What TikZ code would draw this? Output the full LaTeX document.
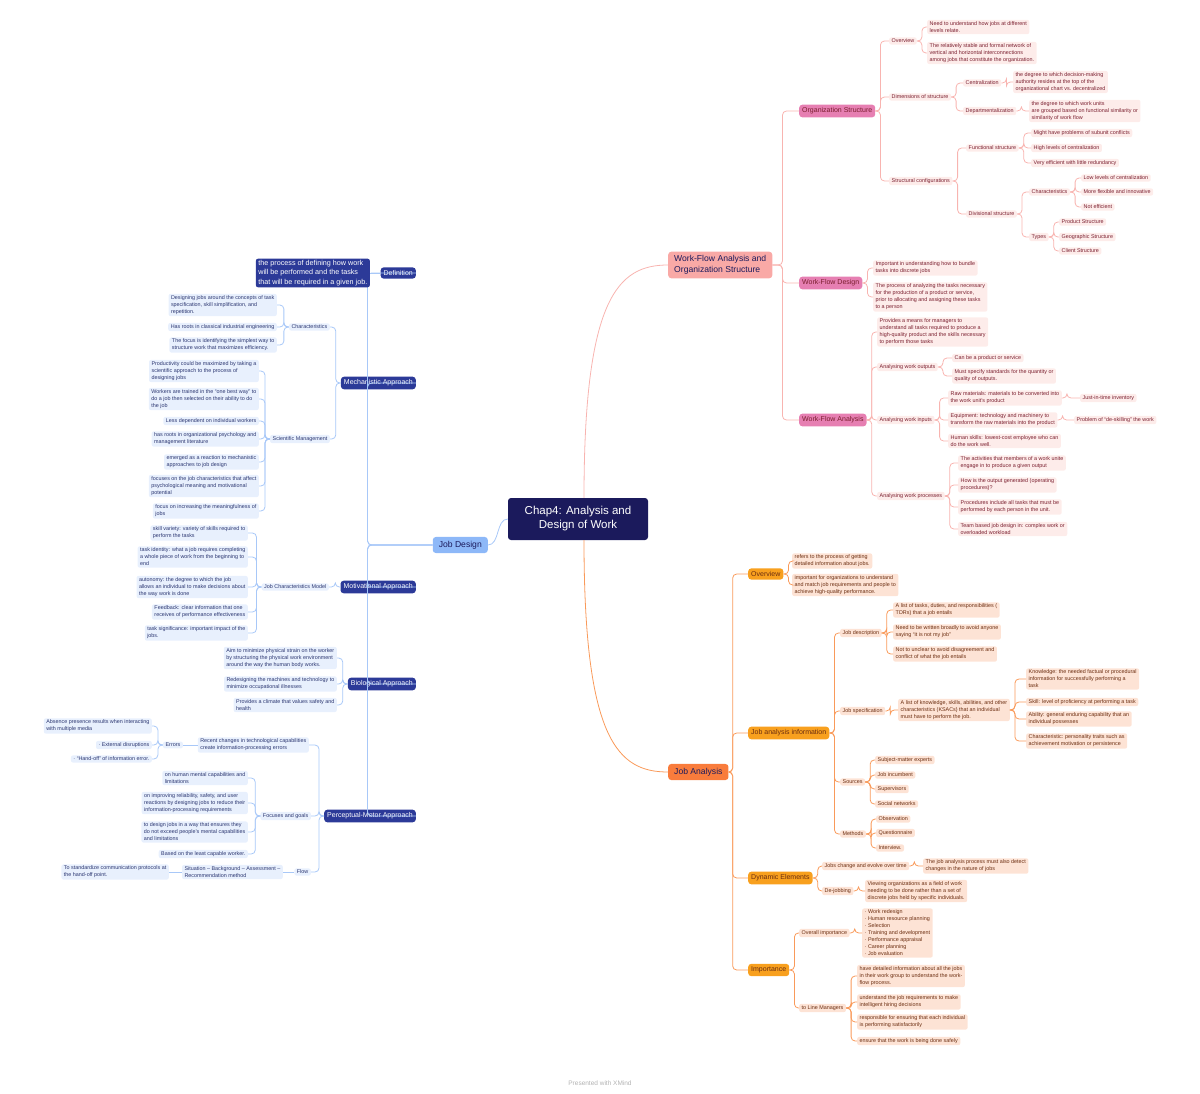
\documentclass[tikz,border=0pt]{standalone}
\usepackage{fontspec}
\setmainfont{Liberation Sans}
\begin{document}
\definecolor{rootc}{HTML}{1B1A5C}
\definecolor{pmainc}{HTML}{F9A9A6}
\definecolor{pmidc}{HTML}{E67FB2}
\definecolor{pleafc}{HTML}{FDECEA}
\definecolor{ptxt}{HTML}{7A1E2E}
\definecolor{plinec}{HTML}{F8B4B0}
\definecolor{omainc}{HTML}{F97C3C}
\definecolor{omidc}{HTML}{F8A01E}
\definecolor{oleafc}{HTML}{FDE3D5}
\definecolor{otxt}{HTML}{6B2D10}
\definecolor{olinec}{HTML}{F99A5A}
\definecolor{bmainc}{HTML}{8DB8F8}
\definecolor{bmidc}{HTML}{2C3A98}
\definecolor{bleafc}{HTML}{E8F0FD}
\definecolor{btxt}{HTML}{2A3570}
\definecolor{blinec}{HTML}{A8C8F8}
\begin{tikzpicture}[x=1pt,y=-1pt,
 base/.style={rounded corners=2pt,inner xsep=2.5pt,inner ysep=1.6pt,align=left,font=\fontsize{5.4}{7}\selectfont},
 pleaf/.style={base,fill=pleafc,text=ptxt},
 oleaf/.style={base,fill=oleafc,text=otxt},
 bleaf/.style={base,fill=bleafc,text=btxt},
 pmid/.style={rounded corners=3pt,fill=pmidc,text=ptxt,inner sep=3pt,font=\fontsize{7}{8.5}\selectfont},
 omid/.style={rounded corners=3pt,fill=omidc,text=otxt,inner sep=3pt,font=\fontsize{7}{8.5}\selectfont},
 bmid/.style={rounded corners=3pt,fill=bmidc,text=white,inner sep=3pt,font=\fontsize{7}{8.5}\selectfont},
 mainn/.style={rounded corners=3pt,inner xsep=6pt,inner ysep=4pt,align=left,font=\fontsize{8.6}{10.5}\selectfont},
 pl/.style={draw=plinec,line width=0.8pt,rounded corners=4pt},
 ol/.style={draw=olinec,line width=0.8pt,rounded corners=4pt},
 bl/.style={draw=blinec,line width=0.8pt,rounded corners=4pt}]
\useasboundingbox (0,0) rectangle (1200,1094);
\newcommand\RN[5]{\node[#1,anchor=west] (#2) at (#3,#4) {#5};}
\newcommand\LN[5]{\node[#1,anchor=east] (#2) at (#3,#4) {#5};}
\newcommand\cR[3]{\draw[#1] (#2.east) -- ++(5,0) |- (#3.west);}
\newcommand\cL[3]{\draw[#1] (#2.west) -- ++(-5,0) |- (#3.east);}
% root
\node[fill=rootc,text=white,rounded corners=3pt,minimum width=140pt,minimum height=42pt,align=center,font=\fontsize{11.5}{14}\selectfont] (root) at (578,519) {Chap4: Analysis and\\Design of Work};
% ===== pink branch
\RN{mainn,fill=pmainc,text=rootc}{wf}{668}{265}{Work-Flow Analysis and\\Organization Structure}
\draw[pl,rounded corners=0pt] ([xshift=6pt]root.north) .. controls +(0,-200) and +(-50,0) .. (wf.west);
\RN{pmid}{os}{799}{111}{Organization Structure}
\RN{pmid}{wfd}{799}{283}{Work-Flow Design}
\RN{pmid}{wfa}{799}{420}{Work-Flow Analysis}
\foreach \c in {os,wfd,wfa}{\draw[pl] (wf.east) -- ++(10,0) |- (\c.west);}
\RN{pleaf}{ov}{889}{41}{Overview}
\RN{pleaf}{dim}{889}{97}{Dimensions of structure}
\RN{pleaf}{sc}{889}{181}{Structural configurations}
\foreach \c in {ov,dim,sc}{\cR{pl}{os}{\c}}
\RN{pleaf}{ov1}{927}{27}{Need to understand how jobs at different\\levels relate.}
\RN{pleaf}{ov2}{927}{53}{The relatively stable and formal network of\\vertical and horizontal interconnections\\among jobs that constitute the organization.}
\cR{pl}{ov}{ov1}\cR{pl}{ov}{ov2}
\RN{pleaf}{cen}{963}{83}{Centralization}
\RN{pleaf}{dep}{963}{111}{Departmentalization}
\cR{pl}{dim}{cen}\cR{pl}{dim}{dep}
\RN{pleaf}{cen1}{1013}{82}{the degree to which decision-making\\authority resides at the top of the\\organizational chart vs. decentralized}
\RN{pleaf}{dep1}{1029}{111}{the degree to which work units\\are grouped based on functional similarity or\\similarity of work flow}
\cR{pl}{cen}{cen1}\cR{pl}{dep}{dep1}
\RN{pleaf}{fs}{966}{148}{Functional structure}
\RN{pleaf}{ds}{966}{214}{Divisional structure}
\cR{pl}{sc}{fs}\cR{pl}{sc}{ds}
\RN{pleaf}{fs1}{1031}{133}{Might have problems of subunit conflicts}
\RN{pleaf}{fs2}{1031}{148}{High levels of centralization}
\RN{pleaf}{fs3}{1031}{163}{Very efficient with little redundancy}
\foreach \c in {fs1,fs2,fs3}{\cR{pl}{fs}{\c}}
\RN{pleaf}{ch}{1029}{192}{Characteristics}
\RN{pleaf}{ty}{1029}{237}{Types}
\cR{pl}{ds}{ch}\cR{pl}{ds}{ty}
\RN{pleaf}{ch1}{1081}{178}{Low levels of centralization}
\RN{pleaf}{ch2}{1081}{192}{More flexible and innovative}
\RN{pleaf}{ch3}{1081}{207}{Not efficient}
\foreach \c in {ch1,ch2,ch3}{\cR{pl}{ch}{\c}}
\RN{pleaf}{ty1}{1059}{222}{Product Structure}
\RN{pleaf}{ty2}{1059}{237}{Geographic Structure}
\RN{pleaf}{ty3}{1059}{251}{Client Structure}
\foreach \c in {ty1,ty2,ty3}{\cR{pl}{ty}{\c}}
\RN{pleaf}{wd1}{873}{268}{Important in understanding how to bundle\\tasks into discrete jobs}
\RN{pleaf}{wd2}{873}{297}{The process of analyzing the tasks necessary\\for the production of a product or service,\\prior to allocating and assigning these tasks\\to a person}
\cR{pl}{wfd}{wd1}\cR{pl}{wfd}{wd2}
\RN{pleaf}{wa1}{877}{332}{Provides a means for managers to\\understand all tasks required to produce a\\high-quality product and the skills necessary\\to perform those tasks}
\RN{pleaf}{wao}{877}{367}{Analysing work outputs}
\RN{pleaf}{wai}{877}{420}{Analysing work inputs}
\RN{pleaf}{wap}{877}{496}{Analysing work processes}
\foreach \c in {wa1,wao,wai,wap}{\cR{pl}{wfa}{\c}}
\RN{pleaf}{o1}{952}{358}{Can be a product or service}
\RN{pleaf}{o2}{952}{376}{Must specify standards for the quantity or\\quality of outputs.}
\cR{pl}{wao}{o1}\cR{pl}{wao}{o2}
\RN{pleaf}{i1}{948}{398}{Raw materials: materials to be converted into\\the work unit's product}
\RN{pleaf}{i2}{948}{420}{Equipment: technology and machinery to\\transform the raw materials into the product}
\RN{pleaf}{i3}{948}{441}{Human skills: lowest-cost employee who can\\do the work well.}
\foreach \c in {i1,i2,i3}{\cR{pl}{wai}{\c}}
\RN{pleaf}{jit}{1080}{398}{Just-in-time inventory}
\RN{pleaf}{dsk}{1074}{420}{Problem of ``de-skilling'' the work}
\cR{pl}{i1}{jit}\cR{pl}{i2}{dsk}
\RN{pleaf}{p1}{958}{463}{The activities that members of a work unite\\engage in to produce a given output}
\RN{pleaf}{p2}{958}{485}{How is the output generated (operating\\procedures)?}
\RN{pleaf}{p3}{958}{507}{Procedures include all tasks that must be\\performed by each person in the unit.}
\RN{pleaf}{p4}{958}{529}{Team based job design in: complex work or\\overloaded workload}
\foreach \c in {p1,p2,p3,p4}{\cR{pl}{wap}{\c}}
% ===== orange branch
\RN{mainn,fill=omainc,text=rootc}{ja}{668}{772}{Job Analysis}
\draw[ol,rounded corners=0pt] ([xshift=6pt]root.south) .. controls +(0,200) and +(-50,0) .. (ja.west);
\RN{omid}{jov}{748}{574}{Overview}
\RN{omid}{jai}{748}{733}{Job analysis information}
\RN{omid}{dyn}{748}{878}{Dynamic Elements}
\RN{omid}{imp}{748}{970}{Importance}
\foreach \c in {jov,jai,dyn,imp}{\draw[ol] (ja.east) -- ++(4,0) |- (\c.west);}
\RN{oleaf}{jo1}{792}{561}{refers to the process of getting\\detailed information about jobs.}
\RN{oleaf}{jo2}{792}{585}{important for organizations to understand\\and match job requirements and people to\\achieve high-quality performance.}
\cR{ol}{jov}{jo1}\cR{ol}{jov}{jo2}
\RN{oleaf}{jd}{840}{633}{Job description}
\RN{oleaf}{js}{840}{711}{Job specification}
\RN{oleaf}{src}{840}{782}{Sources}
\RN{oleaf}{met}{840}{834}{Methods}
\foreach \c in {jd,js,src,met}{\cR{ol}{jai}{\c}}
\RN{oleaf}{jd1}{893}{610}{A list of tasks, duties, and responsibilities (\\TDRs) that a job entails}
\RN{oleaf}{jd2}{893}{632}{Need to be written broadly to avoid anyone\\saying ``it is not my job''}
\RN{oleaf}{jd3}{893}{654}{Not to unclear to avoid disagreement and\\conflict of what the job entails}
\foreach \c in {jd1,jd2,jd3}{\cR{ol}{jd}{\c}}
\RN{oleaf}{js1}{898}{710}{A list of knowledge, skills, abilities, and other\\characteristics (KSACs) that an individual\\must have to perform the job.}
\cR{ol}{js}{js1}
\RN{oleaf}{k1}{1026}{679}{Knowledge: the needed factual or procedural\\information for successfully performing a\\task}
\RN{oleaf}{k2}{1026}{702}{Skill: level of proficiency at performing a task}
\RN{oleaf}{k3}{1026}{719}{Ability: general enduring capability that an\\individual possesses}
\RN{oleaf}{k4}{1026}{741}{Characteristic: personality traits such as\\achievement motivation or persistence}
\foreach \c in {k1,k2,k3,k4}{\cR{ol}{js1}{\c}}
\RN{oleaf}{s1}{875}{760}{Subject-matter experts}
\RN{oleaf}{s2}{875}{775}{Job incumbent}
\RN{oleaf}{s3}{875}{789}{Supervisors}
\RN{oleaf}{s4}{875}{804}{Social networks}
\foreach \c in {s1,s2,s3,s4}{\cR{ol}{src}{\c}}
\RN{oleaf}{m1}{876}{819}{Observation}
\RN{oleaf}{m2}{876}{833}{Questionnaire}
\RN{oleaf}{m3}{876}{848}{Interview.}
\foreach \c in {m1,m2,m3}{\cR{ol}{met}{\c}}
\RN{oleaf}{dy1}{822}{866}{Jobs change and evolve over time}
\RN{oleaf}{dy2}{822}{891}{De-jobbing}
\cR{ol}{dyn}{dy1}\cR{ol}{dyn}{dy2}
\RN{oleaf}{dy1a}{923}{866}{The job analysis process must also detect\\changes in the nature of jobs}
\RN{oleaf}{dy2a}{865}{891}{Viewing organizations as a field of work\\needing to be done rather than a set of\\discrete jobs held by specific individuals.}
\cR{ol}{dy1}{dy1a}\cR{ol}{dy2}{dy2a}
\RN{oleaf}{oi}{799}{933}{Overall importance}
\RN{oleaf}{tlm}{799}{1008}{to Line Managers}
\cR{ol}{imp}{oi}\cR{ol}{imp}{tlm}
\RN{oleaf}{oi1}{862}{933}{· Work redesign\\· Human resource planning\\· Selection\\· Training and development\\· Performance appraisal\\· Career planning\\· Job evaluation}
\cR{ol}{oi}{oi1}
\RN{oleaf}{l1}{857}{976}{ have detailed information about all the jobs\\in their work group to understand the work-\\flow process.}
\RN{oleaf}{l2}{857}{1002}{understand the job requirements to make\\intelligent hiring decisions}
\RN{oleaf}{l3}{857}{1022}{responsible for ensuring that each individual\\is performing satisfactorily}
\RN{oleaf}{l4}{857}{1041}{ensure that the work is being done safely}
\foreach \c in {l1,l2,l3,l4}{\cR{ol}{tlm}{\c}}
% ===== blue branch
\LN{mainn,fill=bmainc,text=rootc}{jdn}{488}{545}{Job Design}
\draw[bl,rounded corners=0pt] (root.west) .. controls +(-12,0) and +(12,0) .. (jdn.east);
\LN{bmid}{def}{416}{273}{Definition}
\LN{bmid}{mech}{416}{383}{Mechanistic Approach}
\LN{bmid}{mot}{416}{587}{Motivational Approach}
\LN{bmid}{bio}{416}{684}{Biological Approach}
\LN{bmid}{pm}{416}{816}{Perceptual-Motor Approach}
\foreach \c in {def,mech,mot,bio,pm}{\draw[bl] (jdn.west) -- ++(-65,0) |- (\c.east);}
\LN{base,fill=bmidc,text=white,font=\fontsize{7.2}{9.3}\selectfont}{def1}{370}{273}{the process of defining how work\\will be performed and the tasks\\that will be required in a given job.}
\draw[bl] (def.west) -- (def1.east);
\LN{bleaf}{mc}{330}{327}{Characteristics}
\LN{bleaf}{sm}{330}{439}{Scientific Management}
\cL{bl}{mech}{mc}\cL{bl}{mech}{sm}
\LN{bleaf}{mc1}{277}{305}{Designing jobs around the concepts of task\\specification, skill simplification, and\\repetition.}
\LN{bleaf}{mc2}{277}{327}{Has roots in classical industrial engineering}
\LN{bleaf}{mc3}{277}{345}{The focus is identifying the simplest way to\\structure work that maximizes efficiency.}
\foreach \c in {mc1,mc2,mc3}{\cL{bl}{mc}{\c}}
\LN{bleaf}{sm1}{259}{371}{Productivity could be maximized by taking a\\scientific approach to the process of\\designing jobs}
\LN{bleaf}{sm2}{259}{399}{Workers are trained in the ``one best way'' to\\do a job then selected on their ability to do\\the job}
\LN{bleaf}{sm3}{259}{421}{Less dependent on individual workers}
\LN{bleaf}{sm4}{259}{439}{has roots in organizational psychology and\\management literature}
\LN{bleaf}{sm5}{259}{462}{emerged as a reaction to mechanistic\\approaches to job design}
\LN{bleaf}{sm6}{259}{486}{focuses on the job characteristics that affect\\psychological meaning and motivational\\potential}
\LN{bleaf}{sm7}{259}{511}{focus on increasing the meaningfulness of\\jobs}
\foreach \c in {sm1,sm2,sm3,sm4,sm5,sm6,sm7}{\cL{bl}{sm}{\c}}
\LN{bleaf}{jcm}{329}{587}{Job Characteristics Model}
\cL{bl}{mot}{jcm}
\LN{bleaf}{jc1}{248}{533}{skill variety: variety of skills required to\\perform the tasks}
\LN{bleaf}{jc2}{248}{557}{task identity: what a job requires completing\\a whole piece of work from the beginning to\\end}
\LN{bleaf}{jc3}{248}{587}{autonomy: the degree to which the job\\allows an individual to make decisions about\\the way work is done}
\LN{bleaf}{jc4}{248}{612}{Feedback: clear information that one\\receives of performance effectiveness}
\LN{bleaf}{jc5}{248}{633}{task significance: important impact of the\\jobs.}
\foreach \c in {jc1,jc2,jc3,jc4,jc5}{\cL{bl}{jcm}{\c}}
\LN{bleaf}{b1}{337}{658}{Aim to minimize physical strain on the worker\\by structuring the physical work environment\\around the way the human body works.}
\LN{bleaf}{b2}{337}{684}{Redesigning the machines and technology to\\minimize occupational illnesses}
\LN{bleaf}{b3}{337}{705}{Provides a climate that values safety and\\health}
\foreach \c in {b1,b2,b3}{\cL{bl}{bio}{\c}}
\LN{bleaf}{rc}{309}{745}{Recent changes in technological capabilities\\create information-processing errors}
\LN{bleaf}{fg}{311}{816}{Focuses and goals}
\LN{bleaf}{fl}{311}{872}{Flow}
\foreach \c in {rc,fg,fl}{\cL{bl}{pm}{\c}}
\LN{bleaf}{er}{183}{745}{Errors}
\draw[bl] (rc.west) -- (er.east);
\LN{bleaf}{e1}{152}{726}{Absence presence results when interacting\\with multiple media}
\LN{bleaf}{e2}{152}{745}{· External disruptions}
\LN{bleaf}{e3}{152}{759}{· ``Hand-off'' of information error.}
\foreach \c in {e1,e2,e3}{\cL{bl}{er}{\c}}
\LN{bleaf}{f1}{248}{778}{on human mental capabilities and\\limitations}
\LN{bleaf}{f2}{248}{803}{on improving reliability, safety, and user\\reactions by designing jobs to reduce their\\information-processing requirements}
\LN{bleaf}{f3}{248}{832}{to design jobs in a way that ensures they\\do not exceed people's mental capabilities\\and limitations}
\LN{bleaf}{f4}{248}{854}{Based on the least capable worker.}
\foreach \c in {f1,f2,f3,f4}{\cL{bl}{fg}{\c}}
\LN{bleaf}{sb}{283}{872}{Situation – Background – Assessment –\\Recommendation method}
\LN{bleaf}{st}{169}{872}{To standardize communication protocols at\\the hand-off point.}
\draw[bl] (fl.west) -- (sb.east); \draw[bl] (sb.west) -- (st.east);
\node[text=black!30,font=\fontsize{6.5}{8}\selectfont] (foot) at (600,1083) {Presented with XMind};
\end{tikzpicture}
\end{document}
